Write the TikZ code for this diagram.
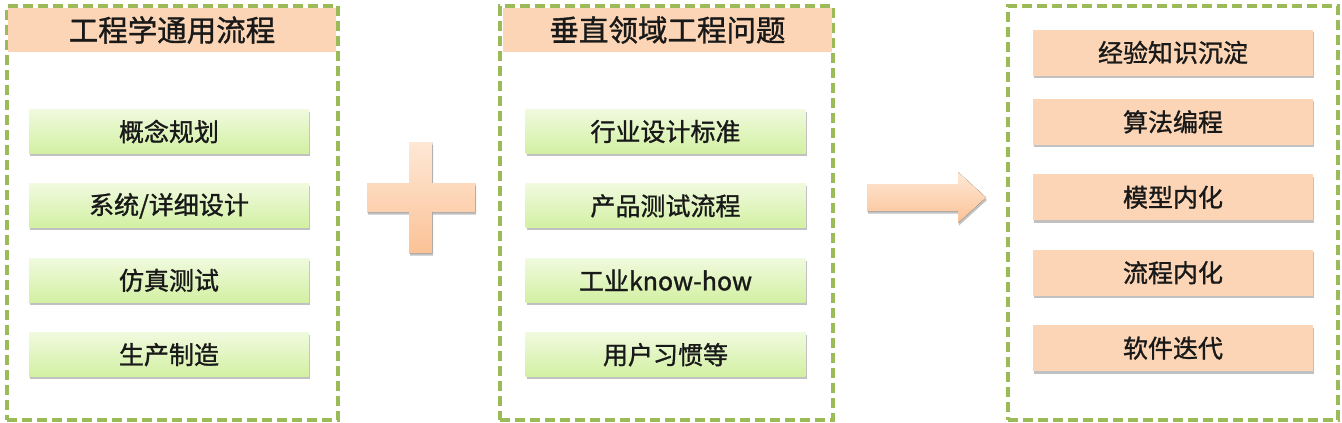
\documentclass[tikz,border=0pt]{standalone}
\usepackage{fontspec}
\newfontfamily\cjk[FakeBold=1.2]{Noto Sans CJK SC}
\usetikzlibrary{positioning, shadows}
\definecolor{panelgreen}{RGB}{155,187,89}
\definecolor{peach}{RGB}{251,213,181}
\definecolor{greentop}{RGB}{240,250,222}
\definecolor{greenbot}{RGB}{210,240,162}
\definecolor{pluslight}{RGB}{254,232,214}
\definecolor{plusdark}{RGB}{251,194,150}
\definecolor{inktext}{RGB}{25,25,25}
\tikzset{
  panel/.style={draw=panelgreen, line width=3.5pt, dash pattern=on 10pt off 5pt,
    minimum height=414pt, inner sep=0pt},
  header/.style={fill=peach, minimum width=328pt, minimum height=44pt, inner sep=0pt,
    text=inktext, font=\cjk\fontsize{29.5}{33}\selectfont},
  boxshadow/.style={drop shadow={shadow xshift=1pt, shadow yshift=-2.5pt,
    opacity=0.35, fill=black!70}},
  greenitem/.style={boxshadow, top color=greentop, bottom color=greenbot,
    minimum width=280pt, minimum height=44pt, inner sep=0pt,
    text=inktext, font=\cjk\fontsize{25}{29}\selectfont},
  peachitem/.style={boxshadow, fill=peach,
    minimum width=280pt, minimum height=46pt, inner sep=0pt,
    text=inktext, font=\cjk\fontsize{25}{29}\selectfont},
  bigsign/.style={boxshadow, top color=pluslight, bottom color=plusdark}
}
\begin{document}
\begin{tikzpicture}[x=1pt, y=1pt]
  \useasboundingbox (0,0) rectangle (1342,-423);

  % left panel
  \node[panel, minimum width=331pt] (general) at (172.5,-213) {};
  \node[header] (generalhead) at (172,-30) {工程学通用流程};
  \node[greenitem] (concept) at (169,-131.5) {概念规划};
  \node[greenitem, below=30pt of concept] (design) {系统/详细设计};
  \node[greenitem, below=30pt of design] (simtest) {仿真测试};
  \node[greenitem, below=30pt of simtest] (produce) {生产制造};

  % plus sign
  \fill[bigsign] (409,-142) -- (432,-142) -- (432,-183) -- (475,-183) -- (475,-212)
    -- (432,-212) -- (432,-253) -- (409,-253) -- (409,-212) -- (367,-212)
    -- (367,-183) -- (409,-183) -- cycle;

  % middle panel
  \node[panel, minimum width=333pt] (vertical) at (666.5,-213) {};
  \node[header, minimum width=329pt] (verticalhead) at (667.5,-30) {垂直领域工程问题};
  \node[greenitem] (standard) at (665.5,-131.5) {行业设计标准};
  \node[greenitem, below=30pt of standard] (prodtest) {产品测试流程};
  \node[greenitem, below=30pt of prodtest] (knowhow) {工业know-how};
  \node[greenitem, below=30pt of knowhow] (habits) {用户习惯等};

  % arrow
  \fill[bigsign] (867,-184) -- (958,-184) -- (958,-172) -- (986,-197.5)
    -- (958,-223) -- (958,-211) -- (867,-211) -- cycle;

  % right panel
  \node[panel, minimum width=330pt] (result) at (1173,-213) {};
  \node[peachitem] (experience) at (1173,-52.5) {经验知识沉淀};
  \node[peachitem, below=23pt of experience] (algorithm) {算法编程};
  \node[peachitem, below=29pt of algorithm] (model) {模型内化};
  \node[peachitem, below=29pt of model] (process) {流程内化};
  \node[peachitem, below=29pt of process] (software) {软件迭代};
\end{tikzpicture}
\end{document}
